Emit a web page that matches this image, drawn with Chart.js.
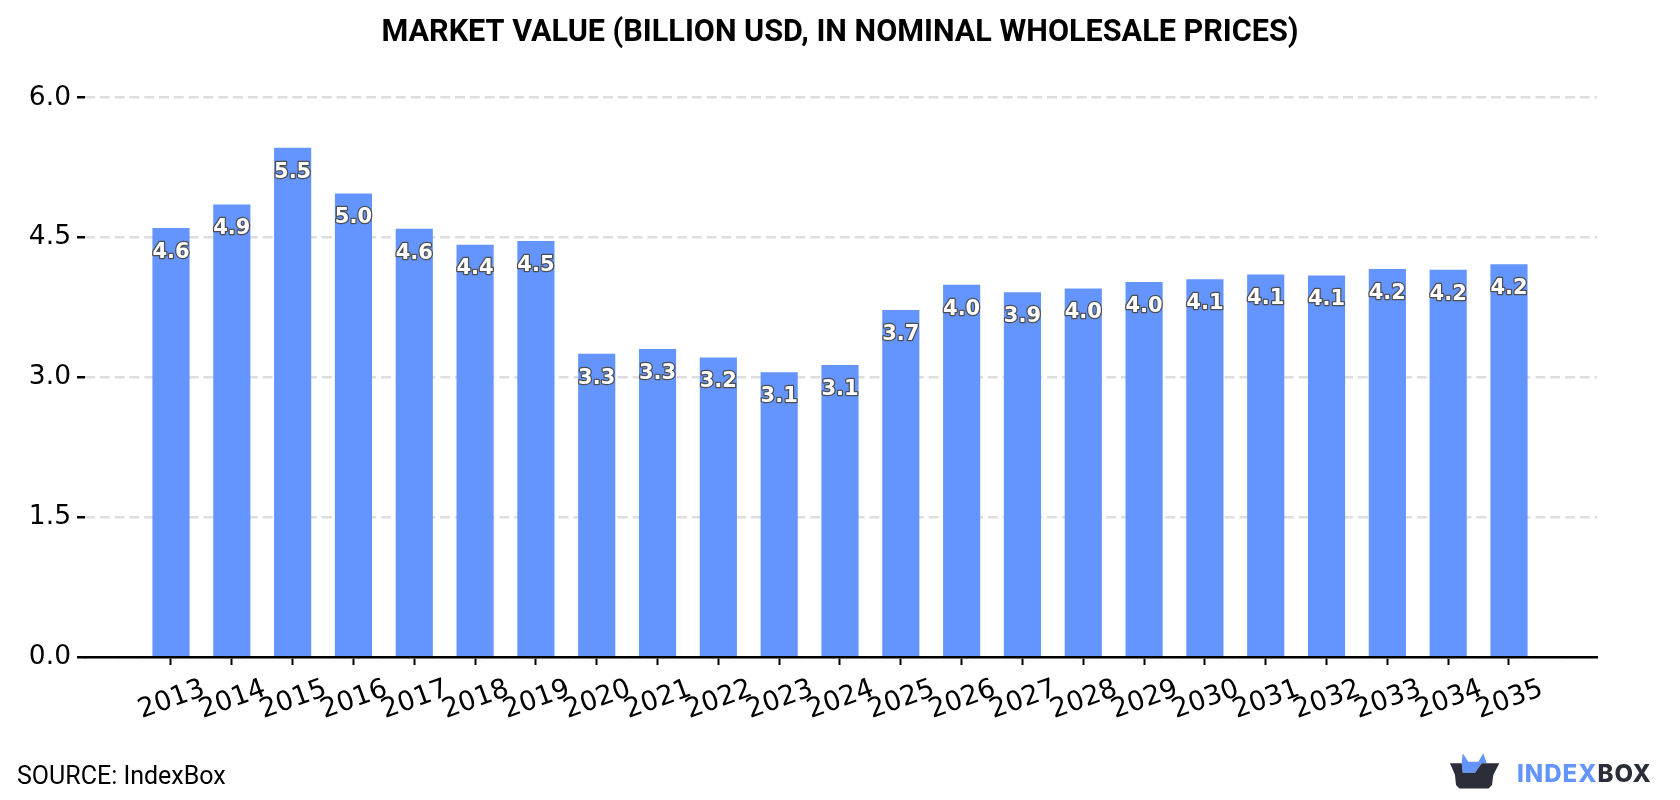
<!DOCTYPE html>
<html>
<head>
<meta charset="utf-8">
<title>Market value</title>
<script src="https://cdn.jsdelivr.net/npm/chart.js@4"></script>
<style>
  html, body { margin: 0; padding: 0; background: #fff; }
  canvas { display: block; }
</style>
</head>
<body>
<canvas id="marketChart" width="1680" height="800"></canvas>
<script>
const years = [2013, 2014, 2015, 2016, 2017, 2018, 2019, 2020, 2021, 2022, 2023, 2024,
  2025, 2026, 2027, 2028, 2029, 2030, 2031, 2032, 2033, 2034, 2035]
const marketValue = [4.6, 4.85, 5.46, 4.97, 4.59, 4.42, 4.46, 3.25, 3.3, 3.21, 3.05, 3.13,
  3.72, 3.99, 3.91, 3.95, 4.02, 4.05, 4.1, 4.09, 4.16, 4.15, 4.21]
const valueTicks = [0, 1.5, 3, 4.5, 6]

const titleText = 'MARKET VALUE (BILLION USD, IN NOMINAL WHOLESALE PRICES)'
const sourceText = 'SOURCE: IndexBox'

const oneDecimal = v => (Math.round(v * 10) / 10).toFixed(1)

// polygon helper for the logo
function fillShape(ctx, color, points) {
  ctx.fillStyle = color
  ctx.beginPath()
  points.forEach(([x, y], i) => i ? ctx.lineTo(x, y) : ctx.moveTo(x, y))
  ctx.closePath()
  ctx.fill()
}

// the title spans the whole canvas, not just the padded area
const centerTitle = {
  id: 'centerTitle',
  afterLayout(chart) {
    chart.titleBlock.left = 0
    chart.titleBlock.right = chart.width
  }
}

// value labels sit inside the top of each bar, white with a dark outline
const barLabels = {
  id: 'barLabels',
  afterDatasetsDraw(chart) {
    const ctx = chart.ctx
    const bars = chart.getDatasetMeta(0).data
    ctx.save()
    ctx.font = 'bold 21px "DejaVu Sans"'
    ctx.textAlign = 'center'
    ctx.textBaseline = 'middle'
    ctx.lineJoin = 'round'
    bars.forEach((bar, i) => {
      const text = oneDecimal(marketValue[i])
      ctx.lineWidth = 2.5
      ctx.strokeStyle = '#4d4d4d'
      ctx.strokeText(text, bar.x, bar.y + 24)
      ctx.fillStyle = '#ffffff'
      ctx.fillText(text, bar.x, bar.y + 24)
    })
    ctx.restore()
  }
}

// source line and the wordmark along the bottom edge
const footer = {
  id: 'footer',
  afterDraw(chart) {
    const ctx = chart.ctx
    ctx.save()
    ctx.textBaseline = 'alphabetic'
    ctx.fillStyle = '#000000'
    ctx.font = '25px Roboto'
    ctx.fillText(sourceText, 17, 784)

    fillShape(ctx, '#6495ff', [[1462.7, 753.3], [1468.3, 761.7], [1478.3, 761.7], [1483.3, 753.3],
      [1486.7, 763.3], [1481.7, 763.3], [1475, 772.7], [1462.7, 772.7], [1461.7, 763.3]])
    fillShape(ctx, '#2b2d38', [[1450, 763.3], [1461.7, 763.3], [1462.7, 772.7], [1475, 772.7],
      [1481.7, 763.3], [1499.3, 763.3], [1493.3, 775], [1492, 785], [1488.5, 788.5], [1459.5, 788.5],
      [1456, 785], [1455, 775]])

    ctx.font = '800 24px Inter'
    ctx.letterSpacing = '1px'
    ctx.fillStyle = '#6495ff'
    ctx.fillText('INDEX', 1517, 782)
    const w = ctx.measureText('INDEX').width
    ctx.fillStyle = '#2b2d38'
    ctx.fillText('BOX', 1517 + w, 782)
    ctx.restore()
  }
}

new Chart(document.getElementById('marketChart'), {
  type: 'bar',
  data: {
    labels: years,
    datasets: [{
      data: years.map((year, i) => ({ x: year, y: marketValue[i] })),
      backgroundColor: '#6495ff',
      barThickness: 36.5
    }]
  },
  options: {
    responsive: false,
    animation: false,
    layout: { padding: { top: 0, left: 0, right: 83, bottom: 0 } },
    plugins: {
      legend: { display: false },
      tooltip: { enabled: false },
      title: {
        display: true,
        text: titleText,
        color: '#000000',
        font: { family: 'Roboto', size: 30.6, weight: 'bold' },
        padding: { top: 15, bottom: 46 }
      }
    },
    scales: {
      x: {
        type: 'linear',
        offset: false,
        min: 2011.586,
        max: 2036.447,
        afterBuildTicks: scale => { scale.ticks = years.map(value => ({ value })) },
        afterFit: scale => { scale.height = 143 },
        grid: { offset: false, drawOnChartArea: false, tickLength: 8, tickColor: '#000000', tickWidth: 2 },
        border: { color: '#000000', width: 2.5 },
        ticks: {
          color: '#000000',
          font: { family: 'DejaVu Sans', size: 27 },
          minRotation: 20,
          maxRotation: 20,
          autoSkip: false,
          labelOffset: 33,
          padding: 8,
          callback: value => String(value)
        }
      },
      y: {
        min: 0,
        max: 6,
        afterBuildTicks: scale => { scale.ticks = valueTicks.map(value => ({ value })) },
        afterFit: scale => { scale.width = 85 },
        grid: { color: '#dedede', lineWidth: 2.5, tickLength: 8, tickColor: '#000000', tickWidth: 2.5 },
        border: { display: false, dash: [10, 4.8] },
        ticks: {
          color: '#000000',
          font: { family: 'DejaVu Sans', size: 26.5 },
          padding: 6,
          callback: value => value.toFixed(1)
        }
      }
    }
  },
  plugins: [centerTitle, barLabels, footer]
})
</script>
</body>
</html>
